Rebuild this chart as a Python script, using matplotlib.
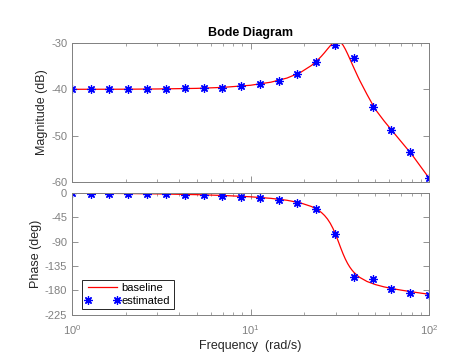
import matplotlib
matplotlib.use("Agg")
import matplotlib.pyplot as plt
from matplotlib.ticker import LogLocator, NullFormatter, FixedLocator

plt.rcParams['font.family'] = ['Liberation Sans', 'DejaVu Sans']
plt.rcParams['axes.unicode_minus'] = False

# baseline response
freq_base = [1, 2, 3, 5, 7, 10, 13, 16, 19, 22, 24, 25, 26, 27, 28, 29, 30, 31, 32,
             33, 34, 35, 36, 37, 38, 40, 41, 45, 50, 56, 63, 71, 80, 90, 100]
mag_base = [-39.99, -39.97, -39.92, -39.79, -39.58, -39.12, -38.46, -37.57, -36.39,
            -34.83, -33.54, -32.83, -32.08, -31.31, -30.59, -29.98, -29.58, -29.52,
            -29.83, -30.48, -31.36, -32.36, -33.40, -34.43, -35.43, -37.29, -38.14,
            -41.13, -44.3, -46.8, -49.2, -51.6, -54.0, -56.7, -59.1]
phase_base = [-0.68, -1.37, -2.06, -3.47, -4.96, -7.41, -10.27, -13.82, -18.55,
              -25.42, -32.16, -36.55, -41.88, -48.4, -56.37, -65.97, -77.08, -89.17,
              -101.3, -112.5, -122.2, -130.3, -136.9, -142.3, -146.7, -153.5, -156.1,
              -163.5, -169.1, -173.4, -176.9, -179.8, -182.4, -184.9, -187.0]

# estimated points (blue stars)
freq_est = [1.00, 1.27, 1.62, 2.07, 2.64, 3.36, 4.28, 5.46, 6.95, 8.86,
            11.29, 14.38, 18.33, 23.36, 29.76, 37.93, 48.33, 61.58, 78.48, 100.0]
mag_est = [-40.0, -40.0, -40.0, -39.95, -39.95, -39.85, -39.8, -39.75, -39.65, -39.3,
           -38.9, -38.2, -36.75, -34.2, -30.4, -33.2, -43.9, -48.7, -53.6, -59.1]
phase_est = [-0.5, -1.8, -1.8, -1.8, -1.9, -2.5, -3.7, -4.3, -5.5, -7.4,
             -9.9, -13.6, -18.5, -30.2, -75.6, -154.3, -158.6, -176.5, -185.0, -188.1]

mag_ticks = [-60, -50, -40, -30]
phase_ticks = [-225, -180, -135, -90, -45, 0]

gray = '#808080'
dark = '#262626'
star = (8, 2, 0)

fig = plt.figure(figsize=(4.74, 3.55), dpi=100)
ax1 = fig.add_axes([0.152, 0.487, 0.753, 0.392])
ax2 = fig.add_axes([0.152, 0.113, 0.753, 0.344])

ax1.plot(freq_base, mag_base, color='red', lw=0.9, label='baseline')
ax1.plot(freq_est, mag_est, ls='none', marker=star, color='blue', ms=6, mew=0.9,
         label='estimated')
ax2.plot(freq_base, phase_base, color='red', lw=0.9, label='baseline')
ax2.plot(freq_est, phase_est, ls='none', marker=star, color='blue', ms=6, mew=0.9,
         label='estimated')

for ax in (ax1, ax2):
    ax.set_xscale('log')
    ax.set_xlim(1, 100)
    ax.xaxis.set_major_locator(LogLocator(base=10))
    ax.xaxis.set_minor_locator(LogLocator(base=10, subs=range(2, 10)))
    ax.xaxis.set_minor_formatter(NullFormatter())
    ax.tick_params(which='both', direction='in', top=True, right=True,
                   colors=gray, labelsize=8, labelcolor=gray)
    ax.tick_params(which='major', length=4, width=0.6)
    ax.tick_params(which='minor', length=2.5, width=0.5)
    for s in ax.spines.values():
        s.set_color(gray)
        s.set_linewidth(0.7)

ax1.set_ylim(-60, -30)
ax1.yaxis.set_major_locator(FixedLocator(mag_ticks))
ax1.tick_params(labelbottom=False)
ax1.set_ylabel('Magnitude (dB)', fontsize=9, color=dark, labelpad=2)
ax1.set_title('Bode Diagram', fontsize=9, fontweight='bold', pad=5)

ax2.set_ylim(-225, 0)
ax2.yaxis.set_major_locator(FixedLocator(phase_ticks))
ax2.tick_params(axis='x', which='major', pad=6)
ax2.set_ylabel('Phase (deg)', fontsize=9, color=dark, labelpad=2)
ax2.set_xlabel('Frequency  (rad/s)', fontsize=9, color=dark, labelpad=2)

leg = ax2.legend(loc='lower left', bbox_to_anchor=(0.027, 0.049), borderaxespad=0,
                 fontsize=8, numpoints=2, handlelength=3.2, handletextpad=0.1,
                 fancybox=False, framealpha=1, borderpad=0.3, labelspacing=0.2)
leg.get_frame().set_edgecolor(dark)
leg.get_frame().set_linewidth(0.7)

fig.savefig('out.png', dpi=100)
